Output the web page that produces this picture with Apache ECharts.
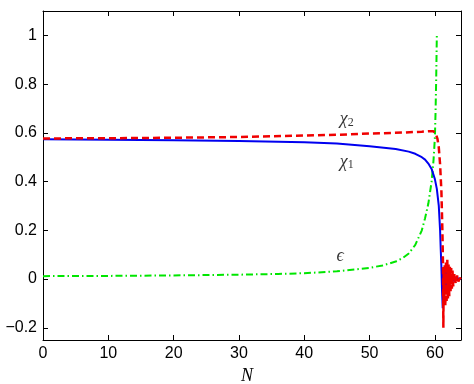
<!DOCTYPE html>
<html><head><meta charset="utf-8">
<script src="https://cdn.jsdelivr.net/npm/echarts@6/dist/echarts.min.js"></script>
<style>html,body{margin:0;padding:0;background:#fff}#c{width:474px;height:384px}</style>
</head><body><div id="c"></div>
<script>
var xTicks = [0, 10, 20, 30, 40, 50, 60];
var yTicks = [-0.2, 0, 0.2, 0.4, 0.6, 0.8, 1];

var chi1N = [0,10,20,30,40,45,50,54,56,57,58,58.5,59,59.5,60,60.3,60.6,60.8,60.9,61.0,
  61.1,61.2,61.3,61.4,61.5,61.6,61.7,61.8,62.0,62.2,62.4,62.6,62.8,63.0,63.3,63.6,64];
var chi1 = [0.574,0.572,0.570,0.567,0.561,0.556,0.545,0.534,0.523,0.514,0.500,0.490,0.474,0.452,0.410,0.370,0.300,0.200,0.120,0.050,
  -0.05,-0.12,0.03,-0.08,0.04,-0.06,0.03,-0.04,0.02,-0.03,0.02,-0.015,0.01,-0.01,0.005,0.0,0.0];

var chi2N = [0,10,20,30,40,45,50,55,58,59,59.7,60.1,60.4,60.6,60.8,61.0,61.15,61.25,61.3,
  61.35,61.4,61.5,61.6,61.7,61.8,61.9,62.0,62.1,62.2,62.3,62.4,62.5,62.6,62.7,62.8,63.0,63.2,63.4,63.6,63.8,64];
var chi2 = [0.577,0.578,0.580,0.583,0.589,0.592,0.597,0.601,0.605,0.607,0.607,0.600,0.575,0.540,0.470,0.360,0.200,0.050,-0.200,
  0.05,-0.10,0.06,-0.11,0.07,-0.09,0.08,-0.08,0.06,-0.07,0.05,-0.05,0.045,-0.04,0.035,-0.03,0.025,-0.02,0.015,-0.01,0.005,0.0];

var epsN = [0,10,20,30,36,40,45,50,52,54,55,56,57,58,58.5,59,59.5,59.8,60,60.1,60.2,60.3];
var eps = [0.012,0.013,0.015,0.018,0.021,0.024,0.032,0.046,0.056,0.072,0.085,0.105,0.140,0.200,0.250,0.310,0.400,0.490,0.580,0.680,0.820,1.000];

var labelN = [46.5, 46.5, 45.5];
var labelY = [0.655, 0.48, 0.092];
var labelText = ['{a|χ}{b|2}', '{a|χ}{b|1}', '{a|ϵ}'];

function pairs(xs, ys) { return xs.map(function (x, i) { return [x, ys[i]]; }); }

var chart = echarts.init(document.getElementById('c'), null, {renderer: 'canvas'});
var axisFont = {color: '#000', fontFamily: 'Liberation Sans, Arial, sans-serif', fontSize: 16};
function xAx(pos, show) {
  return {
    type: 'value', position: pos, min: 0, max: 64,
    axisLine: {show: true, onZero: false, lineStyle: {color: '#000', width: 1}},
    axisTick: {show: true, inside: true, length: 5, customValues: xTicks, lineStyle: {color: '#000'}},
    axisLabel: Object.assign({show: show, margin: 6, customValues: xTicks}, axisFont),
    splitLine: {show: false},
    name: show ? 'N' : '', nameLocation: 'middle', nameGap: 22,
    nameTextStyle: {fontFamily: 'Liberation Serif, Times New Roman, serif', fontStyle: 'italic', fontSize: 18, color: '#000', padding: [0, 10, 0, 0]}
  };
}
function yAx(pos, show) {
  return {
    type: 'value', position: pos, min: -0.25, max: 1.1,
    axisLine: {show: true, onZero: false, lineStyle: {color: '#000', width: 1}},
    axisTick: {show: true, inside: true, length: 5, customValues: yTicks, lineStyle: {color: '#000'}},
    axisLabel: Object.assign({show: show, margin: 6, customValues: yTicks,
      formatter: function (v) { return v < 0 ? '\u2212' + String(Math.abs(v)) : String(v); }}, axisFont),
    splitLine: {show: false}
  };
}
chart.setOption({
  animation: false,
  backgroundColor: '#fff',
  grid: {left: 43, right: 13, top: 11, bottom: 44, containLabel: false, outerBoundsMode: 'none'},
  xAxis: [xAx('bottom', true), xAx('top', false)],
  yAxis: [yAx('left', true), yAx('right', false)],
  series: [
    {type: 'line', data: pairs(epsN, eps), symbol: 'none', lineStyle: {color: '#00e600', width: 2, type: [7, 3, 1.5, 3]}, z: 2},
    {type: 'line', data: pairs(chi1N, chi1), symbol: 'none', lineStyle: {color: '#0000f0', width: 2, type: 'solid'}, z: 3},
    {type: 'line', data: pairs(chi2N, chi2), symbol: 'none', lineStyle: {color: '#f00000', width: 2.5, type: [7, 4]}, z: 4},
    {type: 'scatter', symbolSize: 0, silent: true,
      data: labelN.map(function (n, i) { return {value: [n, labelY[i]], label: {formatter: labelText[i]}}; }),
      label: {show: true, position: 'inside', color: '#000',
        rich: {
          a: {fontFamily: 'Liberation Serif, Times New Roman, serif', fontStyle: 'italic', fontSize: 18, color: '#000'},
          b: {fontFamily: 'Liberation Serif, Times New Roman, serif', fontSize: 12, color: '#000', padding: [6, 0, 0, 0]}
        }}}
  ]
});
</script></body></html>
